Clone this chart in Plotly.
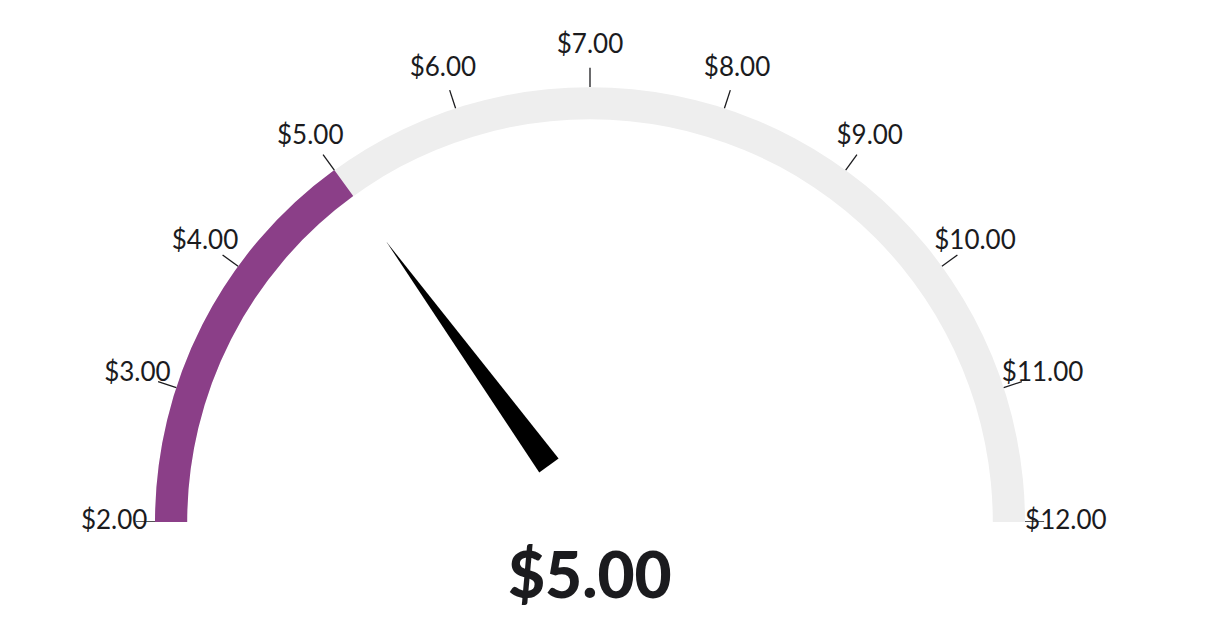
import plotly.graph_objects as go

# gauge data
value = 5.0
gauge_min = 2.0
gauge_max = 12.0
tick_values = [2, 3, 4, 5, 6, 7, 8, 9, 10, 11, 12]
tick_labels = ["$2.00", "$3.00", "$4.00", "$5.00", "$6.00", "$7.00",
               "$8.00", "$9.00", "$10.00", "$11.00", "$12.00"]

PURPLE = "#8b3f88"
TRACK = "#eeeeee"
TEXT = "#1b1b1e"
FONT = "Lato"


def to_deg(v):
    # map gauge value onto the half circle (0..180 deg)
    return (v - gauge_min) / (gauge_max - gauge_min) * 180.0


inner, outer = 0.926, 1.0
rmax = 1.1

fig = go.Figure()

# grey track
fig.add_trace(go.Barpolar(
    r=[outer - inner], base=[inner],
    theta=[to_deg((gauge_min + gauge_max) / 2)],
    width=[to_deg(gauge_max) - to_deg(gauge_min)],
    marker=dict(color=TRACK, line=dict(width=0)),
    hoverinfo="skip",
))

# value bar
fig.add_trace(go.Barpolar(
    r=[outer - inner], base=[inner],
    theta=[to_deg((gauge_min + value) / 2)],
    width=[to_deg(value) - to_deg(gauge_min)],
    marker=dict(color=PURPLE, line=dict(width=0)),
    hoverinfo="skip",
))

# tick marks
tick_r, tick_theta = [], []
for t in tick_values:
    tick_r += [outer, 1.044, None]
    tick_theta += [to_deg(t), to_deg(t), None]
fig.add_trace(go.Scatterpolar(
    r=tick_r, theta=tick_theta, mode="lines",
    line=dict(color=TEXT, width=1.3), hoverinfo="skip",
))

# tick labels
fig.add_trace(go.Scatterpolar(
    r=[1.094] * len(tick_values),
    theta=[to_deg(t) for t in tick_values],
    text=tick_labels, mode="text", textposition="middle center",
    textfont=dict(family=FONT, size=26, color=TEXT),
    hoverinfo="skip",
))

# needle
half = 9.7
fig.add_trace(go.Scatterpolar(
    r=[0.163, 0.797, 0.163, 0.163],
    theta=[to_deg(value) - half, to_deg(value), to_deg(value) + half, to_deg(value) - half],
    mode="lines", fill="toself", fillcolor="black",
    line=dict(color="black", width=0),
    hoverinfo="skip",
))

# page body has an 8px margin, so pixel targets are shifted by that
cx, cy, R = 590 - 8, 522 - 8, 435 * rmax

fig.update_layout(
    width=1218, height=630,
    margin=dict(l=0, r=0, t=0, b=0),
    paper_bgcolor="white",
    showlegend=False,
    font=dict(family=FONT, color=TEXT),
    polar=dict(
        domain=dict(x=[(cx - R) / 1218, (cx + R) / 1218], y=[(630 - cy) / 630, (630 - cy + R) / 630]),
        sector=[0, 180],
        bgcolor="white",
        radialaxis=dict(visible=False, range=[0, rmax]),
        angularaxis=dict(
            visible=False, rotation=180, direction="clockwise",
        ),
    ),
    annotations=[dict(
        text="$%.2f" % value,
        x=cx / 1218, y=(630 - 573 + 8) / 630, xref="paper", yref="paper",
        xanchor="center", yanchor="middle", showarrow=False,
        font=dict(family=FONT, size=64, color=TEXT, weight=900),
    )],
)

fig.write_html("out.html")
